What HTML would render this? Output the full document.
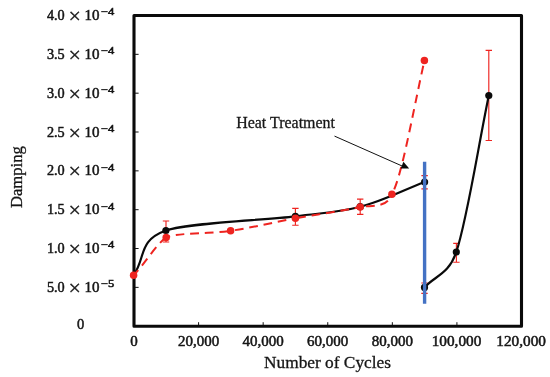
<!DOCTYPE html><html><head><meta charset="utf-8"><title>Damping vs Number of Cycles</title>
<style>html,body{margin:0;padding:0;background:#fff;}svg{display:block;}text{font-family:"Liberation Serif",serif;fill:#161616;}.tk{stroke:#161616;stroke-width:0.5px;}.tt{stroke:#161616;stroke-width:0.3px;}</style></head><body>
<svg width="550" height="377" viewBox="0 0 550 377">
<rect x="0" y="0" width="550" height="377" fill="#fff"/>
<rect x="134" y="15.5" width="387.5" height="310.7" fill="none" stroke="#0a0a0a" stroke-width="3.1" stroke-linejoin="round"/>
<line x1="135" y1="287.36" x2="138.6" y2="287.36" stroke="#111" stroke-width="1"/>
<line x1="135" y1="248.52" x2="138.6" y2="248.52" stroke="#111" stroke-width="1"/>
<line x1="135" y1="209.69" x2="138.6" y2="209.69" stroke="#111" stroke-width="1"/>
<line x1="135" y1="170.85" x2="138.6" y2="170.85" stroke="#111" stroke-width="1"/>
<line x1="135" y1="132.01" x2="138.6" y2="132.01" stroke="#111" stroke-width="1"/>
<line x1="135" y1="93.18" x2="138.6" y2="93.18" stroke="#111" stroke-width="1"/>
<line x1="135" y1="54.34" x2="138.6" y2="54.34" stroke="#111" stroke-width="1"/>
<line x1="198.58" y1="325" x2="198.58" y2="322.2" stroke="#111" stroke-width="1"/>
<line x1="263.17" y1="325" x2="263.17" y2="322.2" stroke="#111" stroke-width="1"/>
<line x1="327.75" y1="325" x2="327.75" y2="322.2" stroke="#111" stroke-width="1"/>
<line x1="392.33" y1="325" x2="392.33" y2="322.2" stroke="#111" stroke-width="1"/>
<line x1="456.92" y1="325" x2="456.92" y2="322.2" stroke="#111" stroke-width="1"/>
<path d="M166.0,221.0 V242.0 M162.8,221.0 H169.2 M162.8,242.0 H169.2" fill="none" stroke="#ee2420" stroke-width="1.15"/>
<path d="M295.4,208.4 V225.2 M292.2,208.4 H298.6 M292.2,225.2 H298.6" fill="none" stroke="#ee2420" stroke-width="1.15"/>
<path d="M360.2,199.1 V214.4 M357.0,199.1 H363.4 M357.0,214.4 H363.4" fill="none" stroke="#ee2420" stroke-width="1.15"/>
<path d="M424.6,175.6 V188.9 M421.4,175.6 H427.8 M421.4,188.9 H427.8" fill="none" stroke="#ee2420" stroke-width="1.15"/>
<path d="M424.5,283.0 V293.3 M421.3,283.0 H427.7 M421.3,293.3 H427.7" fill="none" stroke="#ee2420" stroke-width="1.15"/>
<path d="M456.4,243.4 V262.2 M453.2,243.4 H459.6 M453.2,262.2 H459.6" fill="none" stroke="#ee2420" stroke-width="1.15"/>
<path d="M488.8,50.4 V140.5 M485.6,50.4 H492.0 M485.6,140.5 H492.0" fill="none" stroke="#ee2420" stroke-width="1.15"/>
<path d="M133.80,275.00 C146.00,257.00 137.90,240.58 165.90,230.50 C189.90,222.50 263.40,220.30 295.40,216.30 C327.78,212.33 338.67,212.42 360.20,206.70 C380.20,202.20 403.60,190.00 424.60,182.00" fill="none" stroke="#0a0a0a" stroke-width="2.2" stroke-linecap="round"/>
<path d="M424.50,287.40 C435.10,275.60 448.74,274.56 456.30,252.00 C467.02,220.02 477.97,147.67 488.80,95.50" fill="none" stroke="#0a0a0a" stroke-width="2.2" stroke-linecap="round"/>
<circle cx="165.9" cy="230.5" r="3.6" fill="#0a0a0a"/>
<circle cx="295.4" cy="216.3" r="3.6" fill="#0a0a0a"/>
<circle cx="360.2" cy="206.7" r="3.6" fill="#0a0a0a"/>
<circle cx="424.6" cy="182.0" r="3.6" fill="#0a0a0a"/>
<circle cx="424.5" cy="287.4" r="3.6" fill="#0a0a0a"/>
<circle cx="456.3" cy="252.0" r="3.6" fill="#0a0a0a"/>
<circle cx="488.8" cy="95.5" r="3.6" fill="#0a0a0a"/>
<line x1="424.6" y1="161.8" x2="424.6" y2="303.8" stroke="#4472c4" stroke-width="3.4"/>
<path d="M133.60,275.30 C145.40,263.20 155.40,245.20 166.20,237.40" fill="none" stroke="#ee2420" stroke-width="2.0" stroke-dasharray="8.7 5.8" stroke-dashoffset="-12.8"/>
<path d="M166.20,237.40 C180.00,232.30 209.07,233.98 230.60,230.80" fill="none" stroke="#ee2420" stroke-width="2.0" stroke-dasharray="8.7 5.8" stroke-dashoffset="-10"/>
<path d="M230.60,230.80 C252.13,227.62 273.80,222.28 295.40,218.30" fill="none" stroke="#ee2420" stroke-width="2.0" stroke-dasharray="8.7 5.8" stroke-dashoffset="-4.5"/>
<path d="M295.40,218.30 C317.00,214.32 344.12,210.90 360.20,206.90" fill="none" stroke="#ee2420" stroke-width="2.0" stroke-dasharray="8.7 5.8" stroke-dashoffset="-2"/>
<path d="M360.20,206.90 C373.00,205.00 386.50,208.30 391.90,194.30" fill="none" stroke="#ee2420" stroke-width="2.0" stroke-dasharray="8.7 5.8" stroke-dashoffset="-5.8"/>
<path d="M391.90,194.30 C401.80,176.30 411.64,118.50 424.40,60.50" fill="none" stroke="#ee2420" stroke-width="2.0" stroke-dasharray="8.8 6" stroke-dashoffset="-5.5"/>
<circle cx="133.6" cy="275.3" r="3.75" fill="#ee2420"/>
<circle cx="166.2" cy="237.4" r="3.75" fill="#ee2420"/>
<circle cx="230.6" cy="230.8" r="3.75" fill="#ee2420"/>
<circle cx="295.4" cy="218.3" r="3.75" fill="#ee2420"/>
<circle cx="360.2" cy="206.9" r="3.75" fill="#ee2420"/>
<circle cx="391.9" cy="194.3" r="3.75" fill="#ee2420"/>
<circle cx="424.4" cy="60.5" r="3.75" fill="#ee2420"/>
<line x1="334.5" y1="136.1" x2="403" y2="166.4" stroke="#111" stroke-width="1"/>
<polygon points="400.7,168.6 403.4,161.8 409.2,168.4" fill="#0a0a0a"/>
<text class="tt" x="236.2" y="128" font-size="16.5" textLength="98.8" lengthAdjust="spacingAndGlyphs">Heat Treatment</text>
<text class="tk" y="20.1" font-size="14.5"><tspan x="46.9" textLength="17.8" lengthAdjust="spacingAndGlyphs">4.0</tspan><tspan x="68.45" dy="3" font-size="22" stroke-width="0.3">×</tspan><tspan x="84.6" dy="-3" textLength="15" lengthAdjust="spacingAndGlyphs">10</tspan><tspan x="100.9" dy="-4.8" font-size="10" textLength="13.4" lengthAdjust="spacingAndGlyphs">−4</tspan></text>
<text class="tk" y="58.9" font-size="14.5"><tspan x="46.9" textLength="17.8" lengthAdjust="spacingAndGlyphs">3.5</tspan><tspan x="68.45" dy="3" font-size="22" stroke-width="0.3">×</tspan><tspan x="84.6" dy="-3" textLength="15" lengthAdjust="spacingAndGlyphs">10</tspan><tspan x="100.9" dy="-4.8" font-size="10" textLength="13.4" lengthAdjust="spacingAndGlyphs">−4</tspan></text>
<text class="tk" y="97.8" font-size="14.5"><tspan x="46.9" textLength="17.8" lengthAdjust="spacingAndGlyphs">3.0</tspan><tspan x="68.45" dy="3" font-size="22" stroke-width="0.3">×</tspan><tspan x="84.6" dy="-3" textLength="15" lengthAdjust="spacingAndGlyphs">10</tspan><tspan x="100.9" dy="-4.8" font-size="10" textLength="13.4" lengthAdjust="spacingAndGlyphs">−4</tspan></text>
<text class="tk" y="136.6" font-size="14.5"><tspan x="46.9" textLength="17.8" lengthAdjust="spacingAndGlyphs">2.5</tspan><tspan x="68.45" dy="3" font-size="22" stroke-width="0.3">×</tspan><tspan x="84.6" dy="-3" textLength="15" lengthAdjust="spacingAndGlyphs">10</tspan><tspan x="100.9" dy="-4.8" font-size="10" textLength="13.4" lengthAdjust="spacingAndGlyphs">−4</tspan></text>
<text class="tk" y="175.4" font-size="14.5"><tspan x="46.9" textLength="17.8" lengthAdjust="spacingAndGlyphs">2.0</tspan><tspan x="68.45" dy="3" font-size="22" stroke-width="0.3">×</tspan><tspan x="84.6" dy="-3" textLength="15" lengthAdjust="spacingAndGlyphs">10</tspan><tspan x="100.9" dy="-4.8" font-size="10" textLength="13.4" lengthAdjust="spacingAndGlyphs">−4</tspan></text>
<text class="tk" y="214.3" font-size="14.5"><tspan x="46.9" textLength="17.8" lengthAdjust="spacingAndGlyphs">1.5</tspan><tspan x="68.45" dy="3" font-size="22" stroke-width="0.3">×</tspan><tspan x="84.6" dy="-3" textLength="15" lengthAdjust="spacingAndGlyphs">10</tspan><tspan x="100.9" dy="-4.8" font-size="10" textLength="13.4" lengthAdjust="spacingAndGlyphs">−4</tspan></text>
<text class="tk" y="253.1" font-size="14.5"><tspan x="46.9" textLength="17.8" lengthAdjust="spacingAndGlyphs">1.0</tspan><tspan x="68.45" dy="3" font-size="22" stroke-width="0.3">×</tspan><tspan x="84.6" dy="-3" textLength="15" lengthAdjust="spacingAndGlyphs">10</tspan><tspan x="100.9" dy="-4.8" font-size="10" textLength="13.4" lengthAdjust="spacingAndGlyphs">−4</tspan></text>
<text class="tk" y="292.0" font-size="14.5"><tspan x="46.9" textLength="17.8" lengthAdjust="spacingAndGlyphs">5.0</tspan><tspan x="68.45" dy="3" font-size="22" stroke-width="0.3">×</tspan><tspan x="84.6" dy="-3" textLength="15" lengthAdjust="spacingAndGlyphs">10</tspan><tspan x="100.9" dy="-4.8" font-size="10" textLength="13.4" lengthAdjust="spacingAndGlyphs">−5</tspan></text>
<text class="tk" x="80.5" y="328.9" font-size="14.5" text-anchor="middle">0</text>
<text class="tk" x="130.2" y="345.5" font-size="14" textLength="7.5" lengthAdjust="spacingAndGlyphs">0</text>
<text class="tk" x="178.0" y="345.5" font-size="14" textLength="41.2" lengthAdjust="spacingAndGlyphs">20,000</text>
<text class="tk" x="242.6" y="345.5" font-size="14" textLength="41.2" lengthAdjust="spacingAndGlyphs">40,000</text>
<text class="tk" x="307.1" y="345.5" font-size="14" textLength="41.2" lengthAdjust="spacingAndGlyphs">60,000</text>
<text class="tk" x="371.7" y="345.5" font-size="14" textLength="41.2" lengthAdjust="spacingAndGlyphs">80,000</text>
<text class="tk" x="431.7" y="345.5" font-size="14" textLength="49.6" lengthAdjust="spacingAndGlyphs">100,000</text>
<text class="tk" x="496.3" y="345.5" font-size="14" textLength="49.6" lengthAdjust="spacingAndGlyphs">120,000</text>
<text class="tt" x="264" y="368.4" font-size="17" textLength="127" lengthAdjust="spacingAndGlyphs">Number of Cycles</text>
<text class="tt" transform="translate(21.8,208) rotate(-90)" font-size="17" textLength="61.8" lengthAdjust="spacingAndGlyphs">Damping</text>
</svg></body></html>
